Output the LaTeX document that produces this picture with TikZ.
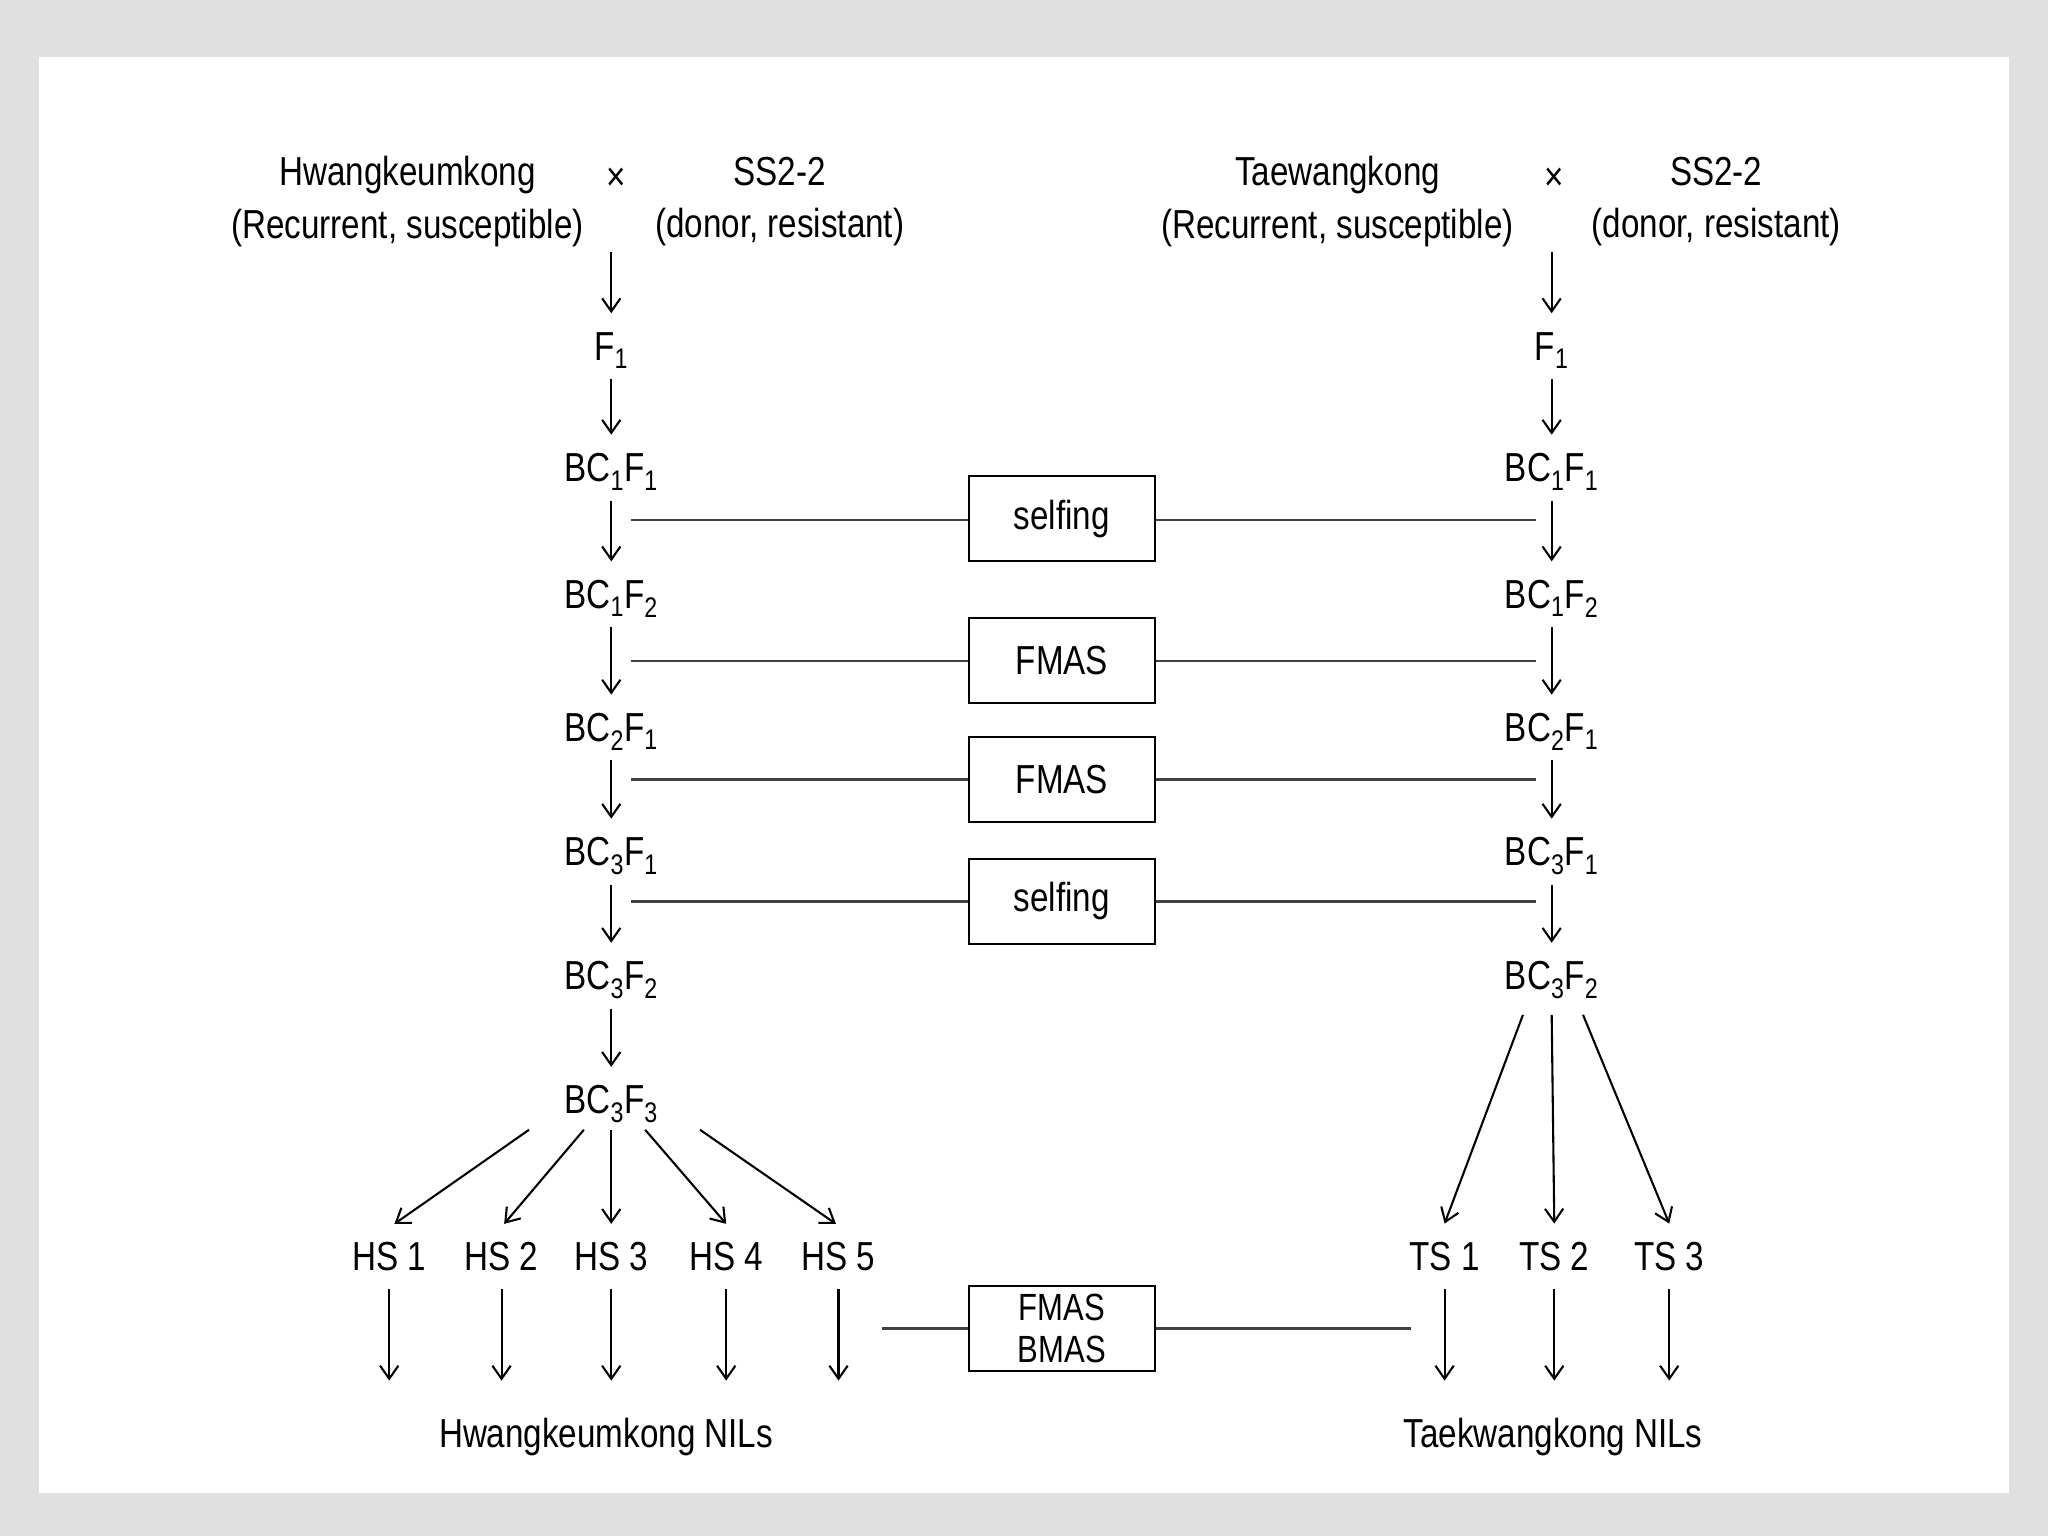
\documentclass[tikz,border=0pt]{standalone}
\usepackage{fontspec}
\setmainfont{Liberation Sans}[FakeStretch=0.82]
\usetikzlibrary{arrows.meta}
\begin{document}
\begin{tikzpicture}[x=1pt,y=-1pt,
  lab/.style={font=\fontsize{31}{40}\selectfont,inner sep=0pt,minimum height=50pt,text depth=0pt,anchor=center},
  box/.style={draw,line width=1.5pt,minimum width=142pt,minimum height=65pt,font=\fontsize{31}{33}\selectfont,inner sep=0pt,align=center},
  arr/.style={-{Straight Barb[length=10pt,width=14pt,line width=1.6pt]},line width=1.6pt},
  ln/.style={line width=2pt,draw=black!75}]
\fill[black!12] (0,0) rectangle (1568,1176);
\fill[white] (30,44) rectangle (1538,1143);
\useasboundingbox (0,0) rectangle (1568,1176);
% titles
\node[lab,align=center] (hk) at (312,151) {Hwangkeumkong\\(Recurrent, susceptible)};
\node[lab,align=center] (sa) at (597,151) {SS2-2\\(donor, resistant)};
\node[lab] (xa) at (472,137) {×};
\node[lab,align=center] (tw) at (1024,151) {Taewangkong\\(Recurrent, susceptible)};
\node[lab,align=center] (sb) at (1314,151) {SS2-2\\(donor, resistant)};
\node[lab] (xb) at (1190,137) {×};
\coordinate (ta) at (468,193);
\coordinate (tb) at (1188,193);
\foreach \n/\y/\t in {aF/265/F\textsubscript{1},a11/358/BC\textsubscript{1}F\textsubscript{1},a12/455/BC\textsubscript{1}F\textsubscript{2},a21/557/BC\textsubscript{2}F\textsubscript{1},a31/652/BC\textsubscript{3}F\textsubscript{1},a32/747/BC\textsubscript{3}F\textsubscript{2},a33/842/BC\textsubscript{3}F\textsubscript{3}}
  {\node[lab] (\n) at (468,\y) {\t};}
\foreach \n/\y/\t in {bF/265/F\textsubscript{1},b11/358/BC\textsubscript{1}F\textsubscript{1},b12/455/BC\textsubscript{1}F\textsubscript{2},b21/557/BC\textsubscript{2}F\textsubscript{1},b31/652/BC\textsubscript{3}F\textsubscript{1},b32/747/BC\textsubscript{3}F\textsubscript{2}}
  {\node[lab] (\n) at (1188,\y) {\t};}
\draw[arr] (ta) -- (aF.north);
\draw[arr] (tb) -- (bF.north);
\foreach \p/\q in {aF/a11,a11/a12,a12/a21,a21/a31,a31/a32,a32/a33,bF/b11,b11/b12,b12/b21,b21/b31,b31/b32}
  \draw[arr] (\p.south) -- (\q.north);
\node[box] (s1) at (813,397) {selfing};
\node[box] (f1) at (813,506) {FMAS};
\node[box] (f2) at (813,597) {FMAS};
\node[box] (s2) at (813,690) {selfing};
\node[box,font=\fontsize{29}{32}\selectfont] (fb) at (813,1017) {FMAS\\BMAS};
\foreach \b/\y in {s1/398,f1/506,f2/597,s2/690}{
  \coordinate (L\b) at (483,\y); \coordinate (R\b) at (1176,\y);
  \draw[ln] (L\b) -- (\b.west |- L\b);
  \draw[ln] (\b.east |- R\b) -- (R\b);}
\foreach \i/\x/\sx/\ex in {1/298/405/302,2/384/447/386,3/468/468/468,4/556/494/556,5/642/536/640}{
  \node[lab] (hs\i) at (\x,962) {HS \i};
  \coordinate (hf\i) at (\sx,865);
  \coordinate (he\i) at (\ex,937);
  \draw[arr] (hf\i) -- (he\i);
  \coordinate (hd\i) at (\x,1057);
  \draw[arr] (hs\i.south) -- (hd\i);}
\foreach \i/\x/\sx in {1/1106/1166,2/1190/1188,3/1278/1212}{
  \node[lab] (ts\i) at (\x,962) {TS \i};
  \coordinate (tf\i) at (\sx,777);
  \draw[arr] (tf\i) -- (ts\i.north);
  \coordinate (td\i) at (\x,1057);
  \draw[arr] (ts\i.south) -- (td\i);}
\coordinate (fl) at (675,1017); \coordinate (fr) at (1080,1017);
\draw[ln] (fl) -- (fb.west); \draw[ln] (fb.east) -- (fr);
\node[lab] (hn) at (464,1097) {Hwangkeumkong NILs};
\node[lab] (tn) at (1189,1097) {Taekwangkong NILs};
\end{tikzpicture}
\end{document}
